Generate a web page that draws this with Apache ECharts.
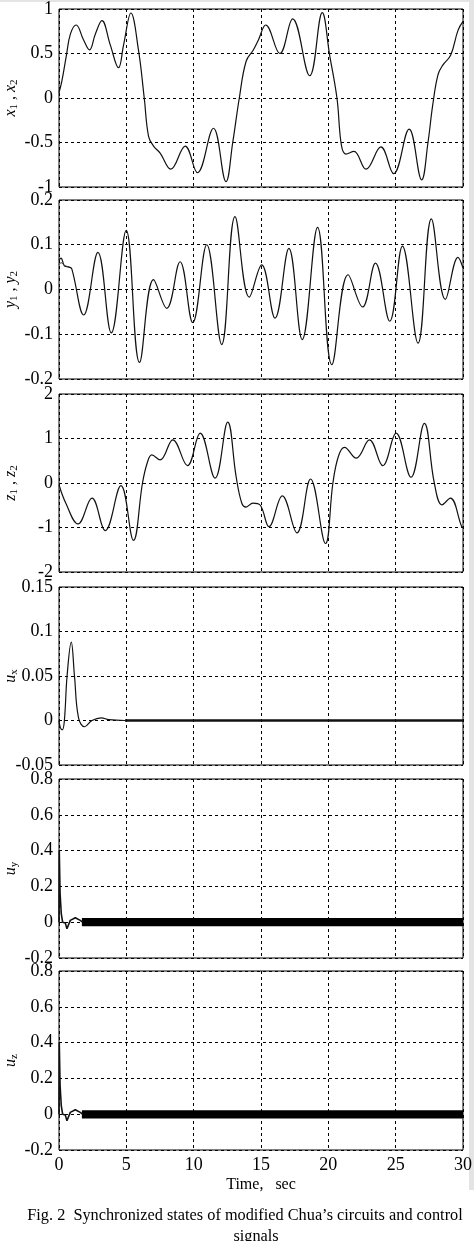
<!DOCTYPE html>
<html><head><meta charset="utf-8">
<script src="https://cdn.jsdelivr.net/npm/echarts@6/dist/echarts.min.js"></script>
<style>html,body{margin:0;padding:0;background:#fff}#c{width:474px;height:1241px}</style>
</head><body><div id="c"></div>
<script>
// ---- data (time in sec, value) ----
const timeTicks = [0, 5, 10, 15, 20, 25, 30];
const xState = [[0,0.06],[0.2,0.18],[0.55,0.48],[0.85,0.72],[1.28,0.82],[1.8,0.66],[2.27,0.54],[2.7,0.72],[3.19,0.87],[3.8,0.6],[4.42,0.34],[4.8,0.6],[5.34,0.955],[5.9,0.54],[6.33,0],[6.65,-0.43],[7.02,-0.54],[7.51,-0.62],[8.3,-0.8],[9.37,-0.54],[10.28,-0.84],[11.47,-0.34],[12.4,-0.94],[12.9,-0.5],[13.39,0],[13.89,0.41],[14.43,0.54],[14.8,0.65],[15.35,0.82],[16.4,0.5],[17.35,0.89],[18.62,0.25],[19.55,0.96],[20.1,0.48],[20.64,0],[20.97,-0.53],[21.3,-0.63],[21.9,-0.6],[22.8,-0.8],[23.9,-0.55],[24.85,-0.85],[26.0,-0.35],[26.93,-0.92],[27.4,-0.5],[27.75,-0.08],[28.14,0.26],[28.5,0.37],[29.08,0.48],[29.63,0.76],[30,0.86]];
const yState = [[0,0.066],[0.15,0.07],[0.4,0.053],[0.75,0.05],[0.95,0.046],[1.83,-0.057],[2.89,0.083],[3.88,-0.097],[4.99,0.132],[5.98,-0.163],[7.02,0.022],[8.0,-0.042],[8.99,0.062],[9.93,-0.074],[10.97,0.1],[12.08,-0.123],[13.07,0.163],[14.13,-0.017],[15.05,0.055],[16.04,-0.064],[17.07,0.092],[18.06,-0.112],[19.2,0.139],[20.26,-0.168],[21.47,0.033],[22.54,-0.039],[23.5,0.059],[24.56,-0.071],[25.5,0.097],[26.66,-0.12],[27.65,0.158],[28.69,-0.022],[29.63,0.072],[30,0.048]];
const yStateAlt = [[0,0.055],[0.15,0.06],[0.4,0.054],[0.75,0.05]];
const zState = [[0,-0.04],[0.5,-0.45],[1.41,-0.92],[2.45,-0.34],[3.43,-1.07],[4.6,-0.06],[5.53,-1.29],[6.2,0],[6.55,0.45],[6.89,0.63],[7.51,0.52],[8.45,0.97],[9.54,0.39],[10.48,1.12],[11.59,0.11],[12.53,1.37],[13.15,0.15],[13.57,-0.45],[13.89,-0.54],[14.4,-0.45],[14.95,-0.5],[15.59,-0.98],[16.58,-0.29],[17.67,-1.12],[18.68,0.09],[19.79,-1.36],[20.34,0],[20.75,0.6],[21.2,0.8],[22.07,0.56],[23.05,0.97],[24.04,0.39],[25.03,1.12],[26.14,0.13],[27.13,1.34],[27.87,0],[28.44,-0.49],[29.06,-0.34],[29.9,-0.98],[30,-1.0]];
const uxTransient = [[0,0],[0.1,-0.008],[0.25,-0.0105],[0.4,0],[0.6,0.05],[0.91,0.088],[1.15,0.05],[1.45,0.003],[1.9,-0.007],[2.45,0],[3.14,0.003],[3.7,0.001],[4.9,0]];
const uxSteady = [[4.9,0],[30,0]];
const uyTransient = [[0,0],[0.02,0.4],[0.07,0.4],[0.08,0.16],[0.15,0.16],[0.17,0.046],[0.22,0.046],[0.27,0],[0.47,-0.005],[0.59,-0.037],[0.84,0.01],[1.21,0.025],[1.58,0.01],[1.75,0]];
const uyBand = [[1.7,-0.023],[30,0.023]];
const uzTransient = [[0,0],[0.02,0.4],[0.07,0.4],[0.08,0.16],[0.15,0.16],[0.17,0.046],[0.22,0.046],[0.27,0],[0.47,-0.005],[0.59,-0.037],[0.84,0.01],[1.21,0.025],[1.58,0.01],[1.75,0]];
const uzBand = [[1.7,-0.024],[30,0.022]];
const yRanges = [[-1,1,0.5],[-0.2,0.2,0.1],[-2,2,1],[-0.05,0.15,0.05],[-0.2,0.8,0.2],[-0.2,0.8,0.2]];
const yNames = [
  '{i|x}{s|1}{i| , }{i|x}{s|2}',
  '{i|y}{s|1}{i| , }{i|y}{s|2}',
  '{i|z}{s|1}{i| , }{i|z}{s|2}',
  '{i|u}{s|x}',
  '{i|u}{s|y}',
  '{i|u}{s|z}'
];
const xName = 'Time,   sec';
const caption1 = 'Fig. 2  Synchronized states of modified Chua\u2019s circuits and control';
const caption2 = 'signals';

// ---- layout ----
const panels = [[9,178],[200,179],[394,178],[587,178],[779,179],[971,179]];
const SERIF = 'Liberation Serif, Times New Roman, serif';
const dashed = {color:'#000', type:[3,3], width:1};

const grid = panels.map(p => ({left:59, width:404, top:p[0], height:p[1], show:true, borderColor:'#000', borderWidth:1, backgroundColor:'#fff', containLabel:false, outerBoundsMode:'none'}));
const xAxis = panels.map((p,i) => ({
  gridIndex:i, type:'value', min:timeTicks[0], max:timeTicks[timeTicks.length-1], interval:timeTicks[1]-timeTicks[0],
  axisLine:{show:false}, axisTick:{show:false},
  axisLabel:{show:i===5, margin:6, color:'#000', fontFamily:SERIF, fontSize:18, showMinLabel:true, showMaxLabel:true},
  splitLine:{show:true, lineStyle:dashed},
  name: i===5 ? xName : '', nameLocation:'middle', nameGap:27, nameMoveOverlap:false,
  nameTextStyle:{color:'#000', fontFamily:SERIF, fontSize:16}
}));
const yAxis = panels.map((p,i) => ({
  gridIndex:i, type:'value', min:yRanges[i][0], max:yRanges[i][1], interval:yRanges[i][2],
  axisLine:{show:false}, axisTick:{show:false},
  axisLabel:{margin:6, color:'#000', fontFamily:SERIF, fontSize:18, showMinLabel:true, showMaxLabel:true},
  splitLine:{show:true, lineStyle:dashed},
  name:yNames[i], nameLocation:'middle', nameGap:39, nameRotate:90, nameMoveOverlap:false,
  nameTextStyle:{color:'#000', rich:{
    i:{fontFamily:SERIF, fontStyle:'italic', fontSize:16, color:'#000', lineHeight:18, verticalAlign:'middle'},
    s:{fontFamily:SERIF, fontSize:11, color:'#000', lineHeight:18, verticalAlign:'bottom'}
  }}
}));

function line(idx, data, w, extra) {
  return Object.assign({type:'line', xAxisIndex:idx, yAxisIndex:idx, data:data, showSymbol:false, symbol:'none',
    smooth:0.4, lineStyle:{color:'#111', width:w}, silent:true, animation:false, z:3}, extra||{});
}
function band(idx, rect) {
  return {type:'line', xAxisIndex:idx, yAxisIndex:idx, data:[], silent:true, animation:false,
    markArea:{silent:true, itemStyle:{color:'#000'}, data:[[{coord:rect[0]},{coord:rect[1]}]]}};
}
const series = [
  line(0, xState, 1.2),
  line(1, yState, 1.2),
  line(1, yStateAlt, 1, {lineStyle:{color:'#333', width:1}}),
  line(2, zState, 1.2),
  line(3, uxTransient, 1.2),
  line(3, uxSteady, 2.6, {smooth:false}),
  line(4, uyTransient, 1.6, {smooth:false}),
  band(4, uyBand),
  line(5, uzTransient, 1.6, {smooth:false}),
  band(5, uzBand)
];

const chart = echarts.init(document.getElementById('c'), null, {renderer:'canvas'});
chart.setOption({
  animation:false,
  backgroundColor:'#fff',
  grid, xAxis, yAxis, series,
  graphic:[
    {type:'rect', left:469, top:0, shape:{width:5, height:1190}, style:{fill:'#e4e4e4'}, z:-1},
    {type:'rect', left:0, top:0, shape:{width:474, height:2}, style:{fill:'#e4e4e4'}, z:-1},
    {type:'text', x:245, y:1216, style:{text:caption1, fill:'#000', font:'16.3px '+SERIF, textAlign:'center', textVerticalAlign:'middle'}},
    {type:'text', x:256, y:1237, style:{text:caption2, fill:'#000', font:'16.3px '+SERIF, textAlign:'center', textVerticalAlign:'middle'}}
  ]
});
</script></body></html>
